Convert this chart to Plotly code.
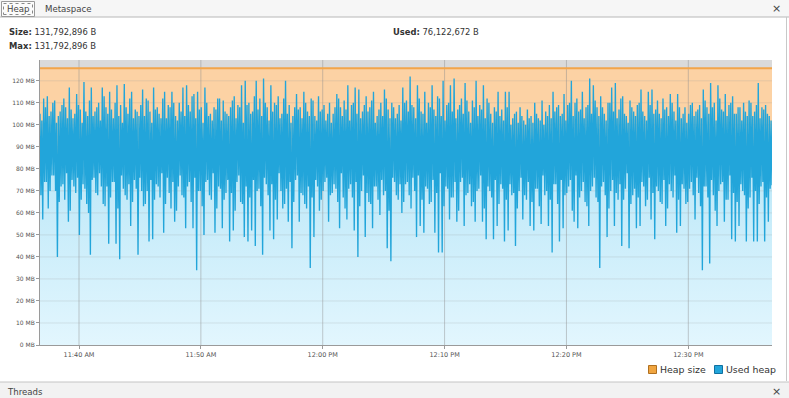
import plotly.graph_objects as go
import pandas as pd

# ---------------- data (MB) ----------------
# peaks of each ~3.7 px column of the dense trace
used_hi_mb = [
    105, 112, 113, 106, 111, 104, 109, 108, 117, 103,
    114, 107, 119.5, 104, 117, 106, 110, 117, 108, 115,
    103, 118, 109, 118.5, 105, 115, 107, 104, 116, 112,
    106, 117, 108, 103, 115, 109, 115, 104, 110, 117,
    118, 106, 114, 115, 108, 117, 104, 102, 107, 112,
    111, 105, 108, 113, 109, 118, 120, 110, 106, 120,
    112, 121, 108, 118, 110, 113, 105, 120, 109, 104,
    114, 108, 115, 106, 112, 104, 113, 107, 102, 110,
    105, 114, 108, 111, 118, 109, 117, 116, 106, 113,
    108, 115, 104, 110, 116, 107, 110, 103, 109, 117,
    111, 122, 108, 118, 106, 115, 110, 118, 104, 112,
    120, 109, 118, 121, 107, 112, 119, 106, 111, 120,
    109, 118, 112, 105, 108, 115, 107, 115, 115, 103,
    106, 108, 102, 107, 104, 110, 103, 111, 106, 109,
    115, 108, 104, 114, 109, 120, 110, 106, 115, 108,
    121, 118, 108, 113, 105, 110, 117, 119, 107, 113,
    104, 111, 106, 109, 116, 104, 115, 116, 107, 105,
    112, 108, 114, 106, 114, 103, 108, 105, 110, 106,
    109, 116, 108, 119, 110, 118, 107, 114, 109, 113,
    105, 108, 110, 104, 110, 106, 119, 108, 109, 104,
]
# secondary (smaller) peaks in the same columns
used_hi2_mb = [
    102, 108, 104, 110, 101, 106, 112, 103, 107, 105,
    109, 101, 106, 111, 104, 108, 102, 113, 105, 107,
    110, 104, 101, 108, 112, 103, 106, 109, 104, 111,
    101, 107, 105, 112, 103, 108, 110, 102, 106, 104,
    109, 113, 103, 107, 101, 110, 105, 108, 112, 102,
    106, 104, 111, 103, 108, 101, 109, 105, 113, 107,
    104, 110, 102, 106, 109, 103, 112, 105, 101, 108,
    107, 103, 110, 104, 111, 102, 106, 109, 105, 101,
    108, 112, 104, 107, 102, 110, 105, 103, 109, 106,
    111, 101, 107, 104, 112, 103, 108, 105, 102, 110,
    106, 109, 103, 112, 105, 101, 108, 107, 113, 104,
    102, 110, 106, 103, 109, 105, 111, 101, 108, 104,
    107, 103, 110, 101, 106, 104, 102, 108, 100, 105,
    101, 104, 100, 103, 101, 105, 102, 100, 104, 103,
    106, 109, 105, 102, 110, 104, 112, 107, 103, 109,
    105, 111, 104, 108, 102, 110, 106, 103, 112, 105,
    101, 108, 104, 110, 106, 102, 109, 105, 111, 103,
    107, 104, 110, 102, 108, 105, 101, 109, 104, 107,
    103, 111, 105, 108, 102, 112, 106, 104, 110, 105,
    108, 102, 106, 111, 104, 109, 103, 107, 105, 102,
]
# troughs of each column
used_lo_mb = [
    57, 74, 70, 77, 40, 72, 66, 56, 75, 69,
    50, 73, 64, 41, 76, 68, 72, 63, 46, 74,
    46, 39, 71, 66, 54, 75, 41, 70, 64, 47,
    48, 73, 67, 51, 76, 62, 56, 72, 68, 53,
    74, 53, 34, 70, 50, 75, 66, 51, 72, 53,
    69, 47, 52, 74, 65, 49, 47, 52, 45, 71,
    41, 73, 52, 48, 57, 70, 64, 56, 44, 75,
    56, 68, 62, 35, 49, 72, 66, 74, 56, 69,
    71, 53, 67, 57, 73, 52, 40, 70, 49, 65,
    53, 72, 59, 68, 44, 38, 74, 66, 60, 73,
    68, 76, 49, 54, 51, 71, 65, 51, 42, 42,
    72, 57, 67, 56, 74, 54, 69, 63, 56, 71,
    56, 48, 70, 48, 54, 73, 47, 52, 68, 45,
    70, 57, 66, 54, 52, 71, 55, 68, 54, 42,
    73, 47, 53, 69, 75, 56, 53, 70, 65, 54,
    72, 67, 35, 74, 49, 70, 54, 66, 45, 71,
    44, 68, 53, 54, 72, 66, 57, 48, 70, 64,
    54, 73, 67, 51, 54, 71, 65, 74, 57, 69,
    34, 72, 37, 68, 54, 73, 56, 66, 48, 47,
    54, 70, 47, 67, 47, 47, 72, 47, 56, 72.6,
]
# secondary (shallower) troughs in the same columns
used_lo2_mb = [
    68, 74, 62, 77, 70, 65, 73, 78, 61, 72,
    76, 66, 71, 60, 75, 69, 78, 64, 72, 67,
    74, 62, 77, 68, 73, 65, 71, 76, 63, 70,
    75, 66, 72, 78, 64, 69, 74, 61, 77, 67,
    72, 65, 76, 70, 63, 74, 68, 78, 62, 71,
    66, 75, 69, 61, 77, 64, 72, 67, 75, 70,
    63, 76, 68, 73, 66, 78, 62, 71, 74, 65,
    77, 69, 64, 72, 67, 75, 61, 70, 76, 68,
    73, 65, 78, 62, 71, 67, 74, 63, 77, 69,
    64, 72, 66, 75, 70, 61, 76, 68, 73, 65,
    74, 62, 70, 77, 66, 72, 64, 75, 69, 78,
    63, 71, 67, 74, 61, 76, 68, 73, 65, 70,
    77, 62, 72, 67, 75, 64, 71, 66, 73, 69,
    62, 76, 68, 74, 65, 71, 63, 77, 70, 66,
    73, 64, 75, 68, 72, 61, 77, 67, 74, 63,
    70, 76, 65, 72, 68, 62, 75, 69, 73, 66,
    78, 64, 71, 67, 74, 63, 76, 69, 72, 65,
    75, 62, 70, 77, 66, 73, 64, 71, 68, 76,
    63, 72, 67, 75, 61, 70, 74, 66, 77, 69,
    65, 73, 68, 62, 76, 70, 64, 74, 67, 71,
]
heap_size_bytes = 131792896
heap_max_bytes = 131792896
used_now_bytes = 76122672
y_tick_values = [0, 10, 20, 30, 40, 50, 60, 70, 80, 90, 100, 110, 120]
x_tick_times = ["2024-01-01 11:40", "2024-01-01 11:50", "2024-01-01 12:00",
                "2024-01-01 12:10", "2024-01-01 12:20", "2024-01-01 12:30"]
x_tick_labels = ["11:40 AM", "11:50 AM", "12:00 PM", "12:10 PM", "12:20 PM", "12:30 PM"]
t_start = "2024-01-01 11:36:48"
t_end = "2024-01-01 12:36:52"

# ---------------- build series ----------------
used_mb = []
for h, l2, h2, l in zip(used_hi_mb, used_lo2_mb, used_hi2_mb, used_lo_mb):
    used_mb += [h, l2, h2, l]
times = pd.date_range(t_start, t_end, periods=len(used_mb))
MB = 1024 * 1024
heap_mb = heap_size_bytes / MB
Y_TOP = 129.45

# ---------------- geometry helpers (pixel -> paper) ----------------
W, H = 789, 398
L, R, T, B = 40, 772, 60, 345


def fx(px):
    return (px - L) / (R - L)


def fy(py):
    return (B - py) / (B - T)


FONT = "DejaVu Sans"
BLUE = "#22a5da"
fig = go.Figure()

# heap size area
fig.add_trace(go.Scatter(
    x=[t_start, t_end], y=[heap_mb, heap_mb], mode="lines",
    fill="tozeroy", fillcolor="#fcd2a4", line=dict(width=0),
    hoverinfo="skip", showlegend=False,
))
# used heap area (fill only)
fig.add_trace(go.Scatter(
    x=times, y=used_mb, mode="lines", fill="tozeroy",
    fillgradient=dict(type="vertical", start=0, stop=80,
                      colorscale=[[0, "#e2f6fe"], [1, "#bde8f8"]]),
    line=dict(width=0), hoverinfo="skip", showlegend=False,
))
# grid lines (above fills, below the used-heap line)
gx, gy = [], []
for t in x_tick_times:
    gx += [t, t, None]
    gy += [0, Y_TOP, None]
fig.add_trace(go.Scatter(x=gx, y=gy, mode="lines", hoverinfo="skip", showlegend=False,
                         line=dict(color="rgba(140,140,140,0.45)", width=1)))
hx, hy = [], []
for v in y_tick_values[1:]:
    hx += [t_start, t_end, None]
    hy += [v, v, None]
fig.add_trace(go.Scatter(x=hx, y=hy, mode="lines", hoverinfo="skip", showlegend=False,
                         line=dict(color="rgba(150,150,150,0.22)", width=1)))
# used heap line
fig.add_trace(go.Scatter(
    x=times, y=used_mb, mode="lines", line=dict(color=BLUE, width=1.35),
    name="Used heap", hoverinfo="skip", showlegend=False,
))
# heap size line
fig.add_trace(go.Scatter(
    x=[t_start, t_end], y=[heap_mb, heap_mb], mode="lines",
    line=dict(color="#f2a54a", width=2), name="Heap size",
    hoverinfo="skip", showlegend=False,
))

shapes = []
# tab bar
shapes.append(dict(type="rect", xref="paper", yref="paper", x0=fx(0), x1=fx(789),
                   y0=fy(17), y1=fy(0), fillcolor="#f6f6f6", line=dict(width=0), layer="below"))
shapes.append(dict(type="line", xref="paper", yref="paper", x0=fx(0), x1=fx(789),
                   y0=fy(17), y1=fy(17), line=dict(color="#b8b8b8", width=1)))
shapes.append(dict(type="rect", xref="paper", yref="paper", x0=fx(1.5), x1=fx(34.5),
                   y0=fy(16.5), y1=fy(1.5), fillcolor="#fbfbfb",
                   line=dict(color="#9a9a9a", width=1)))
shapes.append(dict(type="rect", xref="paper", yref="paper", x0=fx(3.5), x1=fx(32.5),
                   y0=fy(14.5), y1=fy(3.5), fillcolor="rgba(0,0,0,0)",
                   line=dict(color="#888888", width=1, dash="dot")))
# panel right border
shapes.append(dict(type="line", xref="paper", yref="paper", x0=fx(786.5), x1=fx(786.5),
                   y0=fy(381), y1=fy(17), line=dict(color="#c8c8c8", width=1)))
# threads bar
shapes.append(dict(type="rect", xref="paper", yref="paper", x0=fx(0), x1=fx(789),
                   y0=fy(398), y1=fy(382), fillcolor="#f2f2f2",
                   line=dict(width=0), layer="below"))
shapes.append(dict(type="line", xref="paper", yref="paper", x0=fx(0), x1=fx(789),
                   y0=fy(382), y1=fy(382), line=dict(color="#c4c4c4", width=1)))
# legend swatches
shapes.append(dict(type="rect", xref="paper", yref="paper", x0=fx(648.5), x1=fx(656.5),
                   y0=fy(373.5), y1=fy(365.5), fillcolor="#f0a540",
                   line=dict(color="#b07020", width=1)))
shapes.append(dict(type="rect", xref="paper", yref="paper", x0=fx(714.5), x1=fx(722.5),
                   y0=fy(373.5), y1=fy(365.5), fillcolor=BLUE,
                   line=dict(color="#1070a0", width=1)))

ann = []


def text(px, py, s, size=8.4, color="#333333", xanchor="left"):
    ann.append(dict(xref="paper", yref="paper", x=fx(px), y=fy(py), text=s,
                    showarrow=False, xanchor=xanchor, yanchor="middle",
                    font=dict(family=FONT, size=size, color=color)))


text(5, 8.5, "Heap", 8.6, "#444444")
text(43, 8.5, "Metaspace", 8.6, "#444444")
text(776, 8.5, "×", 11, "#444444", "center")
text(7, 32, f"<b>Size:</b> {heap_size_bytes:,} B")
text(7, 46, f"<b>Max:</b> {heap_max_bytes:,} B")
text(391, 32, f"<b>Used:</b> {used_now_bytes:,} B")
text(658, 369.5, "Heap size", 9.4, "#333333")
text(724, 369.5, "Used heap", 9.4, "#333333")
text(5, 391.5, "Threads", 8.6, "#444444")
text(776, 391.5, "×", 11, "#444444", "center")

fig.update_layout(
    width=W, height=H,
    margin=dict(l=L, r=W - R, t=T, b=H - B),
    paper_bgcolor="white", plot_bgcolor="#dadada",
    showlegend=False, shapes=shapes, annotations=ann,
    font=dict(family=FONT, color="#555555"),
)
fig.update_xaxes(
    type="date", range=[t_start, t_end], showgrid=False, zeroline=False,
    tickvals=x_tick_times, ticktext=x_tick_labels,
    ticks="outside", ticklen=3, tickcolor="#9a9a9a",
    showline=True, linecolor="#9a9a9a", linewidth=1,
    tickfont=dict(family=FONT, size=6.5, color="#555555"),
)
fig.update_yaxes(
    range=[0, Y_TOP], showgrid=False, zeroline=False,
    tickvals=y_tick_values, ticktext=[f"{v} MB" for v in y_tick_values],
    ticks="outside", ticklen=3, tickcolor="#9a9a9a",
    showline=True, linecolor="#9a9a9a", linewidth=1,
    tickfont=dict(family=FONT, size=6, color="#555555"),
)

fig.write_html(
    "out.html",
    config={"displayModeBar": False},
    post_script="document.body.style.margin='0';document.body.style.overflow='hidden';",
)
